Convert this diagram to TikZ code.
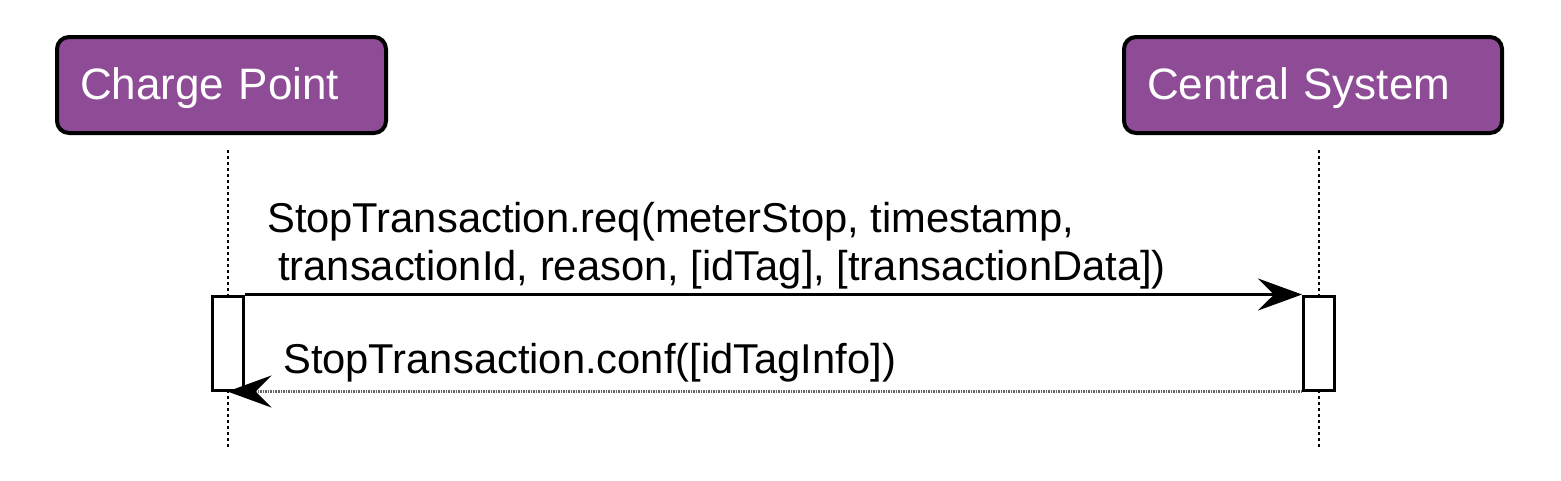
\documentclass[tikz,border=0pt]{standalone}
\usepackage{fontspec}
\setmainfont{Liberation Sans}
\usetikzlibrary{arrows.meta}
\definecolor{actorfill}{HTML}{8E4C96}
\tikzset{
  actor/.style={draw=black, line width=4pt, rounded corners=12pt, fill=actorfill,
    text=white, minimum height=96pt, inner xsep=23pt, align=left, text depth=2pt,
    font=\fontsize{44}{50}\selectfont},
  lifeline/.style={line width=2pt, dash pattern=on 3pt off 3pt},
  activation/.style={draw=black, line width=3pt, fill=white, minimum width=31pt,
    minimum height=94pt, inner sep=0pt},
  msg/.style={font=\fontsize{41.7}{48}\selectfont, anchor=base west, inner sep=0pt},
  bigtip/.style={-{Stealth[length=44pt, width=32pt, inset=16pt, color=black]}}
}
\begin{document}
\begin{tikzpicture}[x=1pt, y=-1pt]
    \useasboundingbox (0,0) rectangle (1561,480);

    \node[actor, text width=283pt] (cp) at (221.5,85) {Charge Point};
    \node[actor, text width=332pt] (cs) at (1313,85) {Central System};

    % lifelines
    \coordinate (cptop) at (227.5,150);
    \coordinate (cpbot) at (227.5,448);
    \coordinate (cstop) at (1319,150);
    \coordinate (csbot) at (1319,448);
    \draw[lifeline] (cptop) -- (cpbot);
    \draw[lifeline] (cstop) -- (csbot);

    \node[activation] (cpact) at (227.5,343) {};
    \node[activation] (csact) at (1319,343) {};

    \draw[line width=3pt, bigtip] (cpact.north east) -- (csact.north west);
    \node[msg] (req) at (267,232) {StopTransaction.req(meterStop, timestamp,};
    \node[msg] (reqb) at (278,280) {transactionId, reason, [idTag], [transactionData])};

    \draw[line width=3pt, black!60, dash pattern=on 1.5pt off 1pt, bigtip]
      (csact.south west) -- (cpact.south);
    \node[msg] (conf) at (283,373) {StopTransaction.conf([idTagInfo])};
\end{tikzpicture}
\end{document}
